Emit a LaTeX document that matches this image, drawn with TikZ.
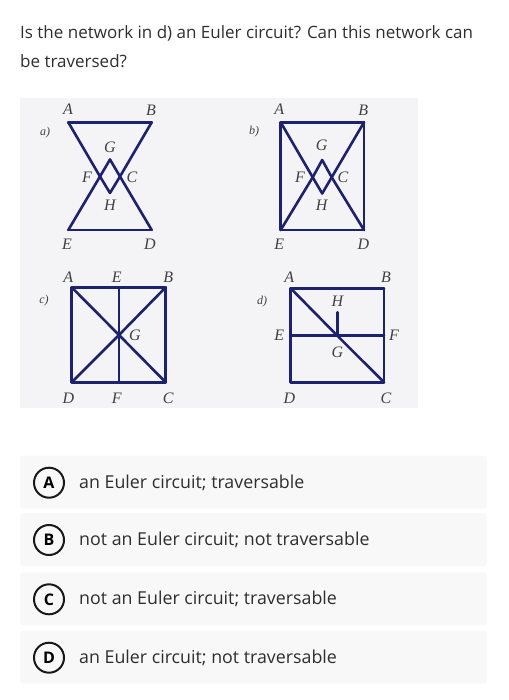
\documentclass[tikz,border=0pt]{standalone}
\usepackage{fontspec}
\setmainfont{Open Sans}
\newfontfamily\labelfont{Liberation Serif}
\usetikzlibrary{positioning}

\definecolor{netblue}{HTML}{1C2170}
\definecolor{panelgray}{HTML}{F4F4F7}
\definecolor{optgray}{HTML}{F8F8F8}
\definecolor{textgray}{HTML}{2E2E2E}

\tikzset{
	edge/.style={netblue, line width=2.6pt, line cap=round, line join=round},
	vlabel/.style={font=\labelfont\itshape\fontsize{16}{16}\selectfont, text=black!75, inner sep=0pt},
	caselabel/.style={vlabel, font=\labelfont\itshape\fontsize{12}{12}\selectfont},
	optbox/.style={fill=optgray, rounded corners=3pt},
	optletter/.style={circle, draw=black!90, line width=2pt, minimum size=30pt, inner sep=0pt, font=\bfseries\fontsize{16}{16}\selectfont},
	qtext/.style={anchor=west, inner sep=0pt, font=\fontsize{17}{17}\selectfont, text=textgray},
	opttext/.style={qtext, font=\fontsize{17.8}{17.8}\selectfont},
}

\begin{document}
\begin{tikzpicture}[x=1pt, y=-1pt]
\useasboundingbox (0,0) rectangle (508,700);

% question
\node[qtext] (q1) at (20,33) {Is the network in d) an Euler circuit? Can this network can};
\node[qtext] (q2) at (20,61) {be traversed?};

% panel with the four networks
\fill[panelgray] (20,98) rectangle (418,408);

% a)
\foreach \n/\x/\y in {A/68.3/122.3, B/151.7/122.3, E/68.3/230, D/151.7/230,
	F/100/176.5, C/120/176.5, G/110/159.5, H/110/193}{
	\coordinate (a\n) at (\x,\y);
}
\foreach \u/\v in {A/B, E/D, A/F, F/H, E/F, F/G, B/C, C/H, D/C, C/G}{
	\draw[edge] (a\u) -- (a\v);
}
\foreach \n/\x/\y in {A/68/109, B/151/110, E/67/244, D/150/244,
	F/87/177, C/132/177, G/110/147, H/110/205}{
	\node[vlabel] (la\n) at (\x,\y) {\n};
}
\node[caselabel] (lba) at (45,133) {a)};

% b)
\foreach \n/\x/\y in {A/280.7/122.3, B/364/122.3, E/280.7/230, D/364/230,
	F/312.7/177.3, C/331.7/177.3, G/322.2/160, H/322.2/193.5}{
	\coordinate (b\n) at (\x,\y);
}
\foreach \u/\v in {A/B, B/D, D/E, E/A, A/F, F/H, E/F, F/G, B/C, C/H, D/C, C/G}{
	\draw[edge] (b\u) -- (b\v);
}
\foreach \n/\x/\y in {A/279.3/109, B/363.3/110, E/279.3/244, D/363.3/244,
	F/300/177, C/343/177, G/321.7/145, H/321.7/205}{
	\node[vlabel] (lb\n) at (\x,\y) {\n};
}
\node[caselabel] (lbb) at (254,132) {b)};

% c)
\foreach \n/\x/\y in {A/71.7/287.3, E/119/287.3, B/165.7/287.3, D/71.7/382.3,
	F/119/382.3, C/165.7/382.3, G/119/335}{
	\coordinate (c\n) at (\x,\y);
}
\foreach \u/\v in {A/E, E/B, B/C, C/F, F/D, D/A, A/G, G/C, B/G, G/D, E/G, G/F}{
	\draw[edge] (c\u) -- (c\v);
}
\foreach \n/\x/\y in {A/68.3/277, E/116.7/277, B/168.3/277, D/68.3/398.3,
	F/116.7/398.3, C/168.3/398.3, G/135/335}{
	\node[vlabel] (lc\n) at (\x,\y) {\n};
}
\node[caselabel] (lbc) at (44,301) {c)};

% d)
\foreach \n/\x/\y in {A/290.7/288.3, B/384/288.3, E/290.7/335.7, F/384/335.7,
	D/290.7/382.3, C/384/382.3, G/337.3/335.7, H/337.3/312.3}{
	\coordinate (d\n) at (\x,\y);
}
\foreach \u/\v in {A/B, B/F, F/C, C/D, D/E, E/A, E/G, G/F, A/G, G/C, G/H}{
	\draw[edge] (d\u) -- (d\v);
}
\foreach \n/\x/\y in {A/289.3/277.7, B/386/277.7, E/279.3/335.7, F/394/335.7,
	D/289.3/398.3, C/386/398.3, G/337.3/352.3, H/337.3/301.7}{
	\node[vlabel] (ld\n) at (\x,\y) {\n};
}
\node[caselabel] (lbd) at (262,301.7) {d)};

% answer options
\foreach \k/\y/\t in {A/482.7/{an Euler circuit; traversable},
	B/540/{not an Euler circuit; not traversable},
	C/599.3/{not an Euler circuit; traversable},
	D/657.7/{an Euler circuit; not traversable}}{
	\fill[optbox] (20,\y-27) rectangle (487,\y+26);
	\node[optletter] (opt\k) at (49,\y) {\k};
	\node[opttext] (txt\k) at (79,\y) {\t};
}

\end{tikzpicture}
\end{document}
